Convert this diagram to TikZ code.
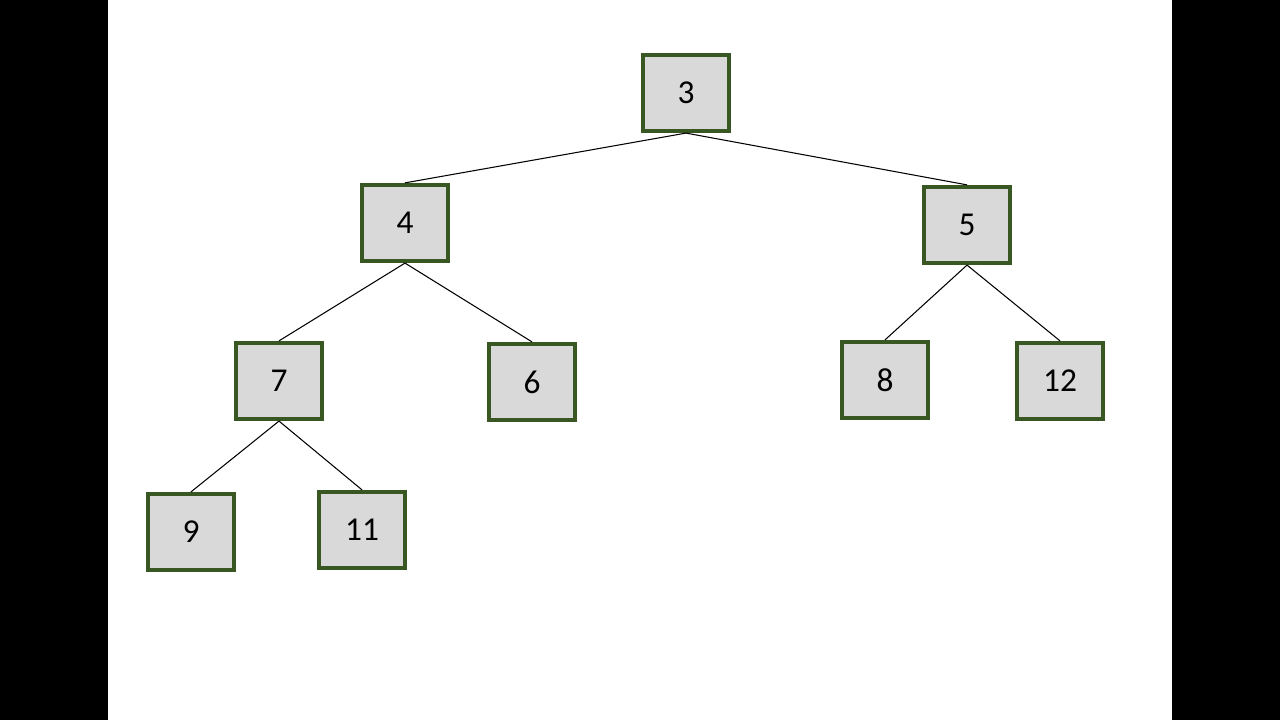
\documentclass[tikz,border=0pt]{standalone}
\usepackage{fontspec}
\setmainfont{Carlito}
\definecolor{boxgreen}{RGB}{56,87,35}
\definecolor{boxgray}{RGB}{217,217,217}
\tikzset{
	knoten/.style={draw=boxgreen, line width=1.2pt, fill=boxgray,
		minimum width=0.86cm, minimum height=0.76cm, inner sep=0pt,
		font=\fontsize{9.5}{11}\selectfont},
	kante/.style={draw=black, line width=0.3pt}
}
\begin{document}
\begin{tikzpicture}
	% Hintergrund
	\fill[black] (0,0) rectangle (12.8,7.2);
	\fill[white] (1.08,0) rectangle (11.72,7.2);
	\useasboundingbox (0,0) rectangle (12.8,7.2);
	% Knoten
	\node[knoten] (n3) at (6.86, 6.27) {3};
	\node[knoten] (n4) at (4.05, 4.97) {4};
	\node[knoten] (n5) at (9.67, 4.95) {5};
	\node[knoten] (n7) at (2.79, 3.39) {7};
	\node[knoten] (n6) at (5.32, 3.38) {6};
	\node[knoten] (n8) at (8.85, 3.40) {8};
	\node[knoten] (n12) at (10.60, 3.39) {12};
	\node[knoten] (n9) at (1.91, 1.88) {9};
	\node[knoten] (n11) at (3.62, 1.90) {11};
	% Kanten
	\draw[kante] (n3.south) -- (n4.north);
	\draw[kante] (n3.south) -- (n5.north);
	\draw[kante] (n4.south) -- (n7.north);
	\draw[kante] (n4.south) -- (n6.north);
	\draw[kante] (n5.south) -- (n8.north);
	\draw[kante] (n5.south) -- (n12.north);
	\draw[kante] (n7.south) -- (n9.north);
	\draw[kante] (n7.south) -- (n11.north);
\end{tikzpicture}
\end{document}
